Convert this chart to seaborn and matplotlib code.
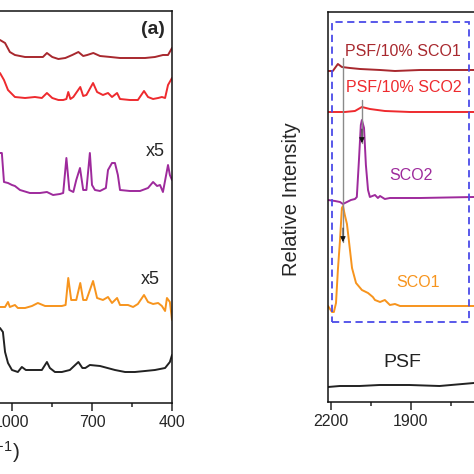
"""
FTIR spectra: fingerprint region (a) and the 2200-1650 cm-1 region.
"""

import matplotlib.pyplot as plt
import matplotlib.patches as mpatches
import pandas as pd
import seaborn as sns

SAMPLES = ["PSF/10% SCO1", "PSF/10% SCO2", "SCO2", "SCO1", "PSF"]
COLORS = ["#a8282e", "#ee2a2e", "#9e2a9c", "#f7941d", "#222222"]

# panel (a), stacked intensities (offsets included)
A_MIX1_WN = [1045, 1026, 1008, 989, 951, 914, 884, 869, 849, 826, 800, 774, 751,
             733, 718, 695, 670, 631, 595, 558, 501, 464, 434, 415, 400]
A_MIX1_Y = [362, 359, 350, 347, 345, 345, 345, 349, 345, 343, 344, 347, 350,
            346, 347, 349, 346, 345, 344, 344, 344, 345, 347, 347, 354]

A_MIX2_WN = [1045, 1030, 1015, 989, 951, 914, 888, 869, 849, 826, 808, 796, 789,
             781, 770, 744, 733, 721, 696, 681, 659, 640, 625, 606, 595, 558,
             528, 505, 490, 471, 452, 438, 426, 415, 400]
A_MIX2_Y = [329, 322, 312, 305, 304, 305, 304, 309, 304, 302, 302, 303, 310,
            303, 305, 315, 306, 307, 319, 310, 307, 309, 305, 309, 303, 302,
            302, 311, 305, 303, 304, 305, 304, 317, 324]

A_SCO2_WN = [1045, 1038, 1030, 1015, 1000, 989, 970, 933, 895, 869, 846, 820,
             808, 796, 785, 770, 759, 745, 733, 721, 708, 700, 689, 670, 648,
             640, 625, 614, 603, 595, 558, 520, 490, 471, 456, 445, 434, 415,
             408, 400]
A_SCO2_Y = [249, 249, 220, 219, 217, 216, 212, 209, 209, 210, 207, 208, 209,
            244, 212, 210, 222, 234, 212, 212, 249, 217, 212, 211, 214, 232,
            239, 239, 227, 212, 211, 211, 214, 220, 216, 217, 210, 237, 227, 222]

A_SCO1_WN = [1045, 1026, 1015, 1008, 989, 978, 951, 925, 903, 876, 839, 813,
             799, 789, 778, 759, 744, 733, 721, 696, 681, 659, 640, 625, 606,
             595, 565, 546, 528, 505, 490, 471, 452, 438, 426, 419, 408, 400]
A_SCO1_Y = [95, 95, 100, 95, 97, 94, 94, 96, 99, 96, 96, 96, 97, 124, 102, 102,
            119, 102, 102, 121, 104, 102, 105, 99, 104, 97, 97, 95, 98, 107,
            100, 98, 99, 96, 91, 104, 100, 82]

A_PSF_WN = [1045, 1034, 1026, 1015, 1000, 978, 963, 948, 914, 888, 869, 858,
            839, 813, 783, 751, 736, 725, 708, 670, 614, 576, 539, 501, 464,
            426, 408, 400]
A_PSF_Y = [74, 70, 50, 39, 32, 30, 35, 32, 32, 32, 40, 34, 30, 30, 32, 40, 34,
           34, 37, 36, 32, 30, 30, 31, 32, 34, 40, 47]

# right panel, 2200-1650 cm-1
B_MIX1_WN = [2211, 2193, 2174, 2159, 2129, 2091, 2016, 1960, 1866, 1664]
B_MIX1_Y = [331, 331, 338, 335, 334, 333, 332, 331, 332, 332]

B_MIX2_WN = [2211, 2148, 2110, 2084, 2054, 1998, 1904, 1664]
B_MIX2_Y = [290, 290, 291, 295, 293, 291, 290, 290]

B_SCO2_WN = [2211, 2185, 2166, 2155, 2140, 2125, 2110, 2103, 2095, 2088, 2084,
             2076, 2069, 2061, 2054, 2035, 2024, 2016, 1998, 1979, 1941, 1866,
             1664]
B_SCO2_Y = [202, 201, 200, 198, 200, 202, 203, 205, 242, 277, 282, 274, 237,
            212, 205, 207, 204, 206, 203, 204, 204, 204, 205]

B_SCO1_WN = [2211, 2196, 2189, 2181, 2174, 2166, 2159, 2155, 2148, 2140, 2133,
             2121, 2106, 2084, 2061, 2043, 2035, 2016, 1998, 1979, 1960, 1941,
             1866, 1664]
B_SCO1_Y = [96, 90, 90, 99, 132, 162, 194, 196, 187, 178, 162, 134, 119, 112,
            109, 105, 102, 100, 102, 97, 98, 96, 96, 96]

B_PSF_WN = [2211, 2167, 2093, 2018, 1906, 1793, 1664]
B_PSF_Y = [15, 16, 16, 17, 17, 16, 19]

# shifted bands marked by arrows
ARROW_WN = [2155, 2084]
ARROW_TOP = [344, 302]
ARROW_TIP = [160, 259]

# dashed frame around the band region
BOX_WN = [2196, 1682]
BOX_Y = [80, 380]

LABEL_WN = [1930, 1926, 1900, 1872, 1932]
LABEL_Y = [350, 314, 226, 119, 39]
LABEL_SIZE = [11.5, 11.5, 11.5, 11.5, 14]


def to_frame(spectra):
    rows = []
    for sample, (wn, y) in zip(SAMPLES, spectra):
        rows.append(pd.DataFrame({"wn": wn, "y": y, "sample": sample}))
    return pd.concat(rows, ignore_index=True)


def style_axis(ax, xlim, major, minor):
    ax.set_xlim(*xlim)
    ax.set_ylim(0, 390)
    ax.set_xticks(major)
    ax.set_xticks(minor, minor=True)
    ax.set_xticklabels([str(t) for t in major])
    ax.set_yticks([])
    ax.set_xlabel("")
    ax.set_ylabel("")
    ax.tick_params(axis="x", which="major", direction="out", length=6, width=1.1,
                   labelsize=11.5, pad=3)
    ax.tick_params(axis="x", which="minor", direction="out", length=3, width=1.1)
    for spine in ax.spines.values():
        spine.set_linewidth(1.1)
        spine.set_color("#111111")


def main():
    sns.set_style("ticks")
    plt.rcParams["font.family"] = ["Liberation Sans", "DejaVu Sans"]
    plt.rcParams["mathtext.fontset"] = "custom"
    plt.rcParams["mathtext.rm"] = "Liberation Sans"
    plt.rcParams["mathtext.it"] = "Liberation Sans:italic"

    palette = dict(zip(SAMPLES, COLORS))
    fig = plt.figure(figsize=(4.74, 4.74), dpi=100)
    ax_a = fig.add_axes([-0.1998, 0.1498, 0.5627, 0.8270])
    ax_b = fig.add_axes([0.6920, 0.1519, 0.3439, 0.8228])

    left = to_frame([(A_MIX1_WN, A_MIX1_Y), (A_MIX2_WN, A_MIX2_Y),
                     (A_SCO2_WN, A_SCO2_Y), (A_SCO1_WN, A_SCO1_Y),
                     (A_PSF_WN, A_PSF_Y)])
    sns.lineplot(data=left, x="wn", y="y", hue="sample", palette=palette,
                 estimator=None, sort=False, legend=False, lw=1.4, ax=ax_a)
    style_axis(ax_a, (1400, 400), [1300, 1000, 700, 400], [1150, 850, 550])
    ax_a.set_ylim(-1, 391)
    ax_a.text(473, 372, "(a)", ha="center", va="center", fontsize=14,
              fontweight="bold")
    ax_a.text(464, 250, "x5", ha="center", va="center", fontsize=13)
    ax_a.text(482, 122, "x5", ha="center", va="center", fontsize=13)

    right = to_frame([(B_MIX1_WN, B_MIX1_Y), (B_MIX2_WN, B_MIX2_Y),
                      (B_SCO2_WN, B_SCO2_Y), (B_SCO1_WN, B_SCO1_Y),
                      (B_PSF_WN, B_PSF_Y)])
    sns.lineplot(data=right, x="wn", y="y", hue="sample", palette=palette,
                 estimator=None, sort=False, legend=False, lw=1.4, ax=ax_b)
    # the 1600 tick falls outside the cropped picture
    style_axis(ax_b, (2211, 1600), [2200, 1900], [2050, 1750])

    for wn, top, tip in zip(ARROW_WN, ARROW_TOP, ARROW_TIP):
        ax_b.plot([wn, wn], [top, tip], color="#8a8a8a", lw=1.0, zorder=3)
        ax_b.annotate("", xy=(wn, tip), xytext=(wn, tip + 14),
                      arrowprops=dict(arrowstyle="-|>", color="#111111", lw=0.6,
                                      mutation_scale=8, shrinkA=0, shrinkB=0),
                      zorder=4)

    ax_b.add_patch(mpatches.Rectangle(
        (BOX_WN[0], BOX_Y[0]), BOX_WN[1] - BOX_WN[0], BOX_Y[1] - BOX_Y[0],
        fill=False, ec="#4b4be8", lw=1.3, ls=(0, (4, 2.5)), zorder=5))

    for name, color, wn, y, size in zip(SAMPLES, COLORS, LABEL_WN, LABEL_Y,
                                        LABEL_SIZE):
        ax_b.text(wn, y, name, color=color, ha="center", va="center",
                  fontsize=size)

    ax_b.set_ylabel("Relative Intensity", fontsize=14.5)
    ax_b.yaxis.set_label_coords(-0.165, 0.52)

    fig.text(20 / 474, 1 - 452 / 474, "Wavenumber (cm$^{-1}$)", ha="right",
             va="center", fontsize=15)

    fig.savefig("out.png", dpi=100)


if __name__ == "__main__":
    main()
